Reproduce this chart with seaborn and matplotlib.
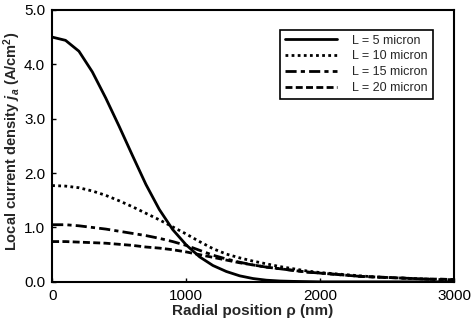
import numpy as np
import pandas as pd
import matplotlib
matplotlib.use("Agg")
import matplotlib.pyplot as plt
import seaborn as sns

rho = [0, 100, 200, 300, 400, 500, 600, 700, 800, 900, 1000, 1100, 1200, 1300, 1400,
       1500, 1600, 1700, 1800, 1900, 2000, 2100, 2200, 2300, 2400, 2500, 2600, 2700,
       2800, 2900, 3000]
j_L5 = [4.5, 4.44, 4.24, 3.86, 3.38, 2.86, 2.32, 1.79, 1.33, 0.96, 0.68, 0.46, 0.3, 0.19,
        0.11, 0.06, 0.03, 0.015, 0.008, 0.004, 0.0, 0.0, 0.0, 0.0, 0.0, 0.0, 0.0, 0.0,
        0.0, 0.0, 0.0]
j_L10 = [1.77, 1.76, 1.73, 1.67, 1.59, 1.49, 1.38, 1.26, 1.14, 1.01, 0.88, 0.74, 0.61,
         0.51, 0.44, 0.38, 0.33, 0.28, 0.24, 0.2, 0.17, 0.15, 0.13, 0.11, 0.09, 0.08,
         0.07, 0.06, 0.05, 0.04, 0.03]
j_L15 = [1.05, 1.05, 1.03, 1.0, 0.97, 0.93, 0.89, 0.85, 0.8, 0.74, 0.67, 0.58, 0.49,
         0.42, 0.36, 0.31, 0.27, 0.24, 0.21, 0.18, 0.16, 0.14, 0.12, 0.1, 0.09, 0.08,
         0.07, 0.06, 0.05, 0.04, 0.04]
j_L20 = [0.74, 0.74, 0.73, 0.72, 0.71, 0.69, 0.67, 0.64, 0.62, 0.59, 0.55, 0.5, 0.45,
         0.4, 0.35, 0.31, 0.27, 0.24, 0.21, 0.18, 0.16, 0.14, 0.12, 0.1, 0.09, 0.08,
         0.07, 0.06, 0.05, 0.05, 0.04]
labels = ["L = 5 micron", "L = 10 micron", "L = 15 micron", "L = 20 micron"]
series = [j_L5, j_L10, j_L15, j_L20]

df = pd.concat([pd.DataFrame({"rho": rho, "j": s, "L": lab}) for s, lab in zip(series, labels)],
               ignore_index=True)

sns.set_theme(style="ticks")
plt.rcParams["font.family"] = ["Liberation Sans", "DejaVu Sans"]
plt.rcParams["mathtext.fontset"] = "custom"
plt.rcParams["mathtext.rm"] = "Liberation Sans:bold"
plt.rcParams["mathtext.it"] = "Liberation Sans:bold:italic"
plt.rcParams["mathtext.bf"] = "Liberation Sans:bold"

fig = plt.figure(figsize=(4.74, 3.30), dpi=100)
ax = fig.add_axes([0.110, 0.146, 0.848, 0.824])

sns.lineplot(data=df, x="rho", y="j", style="L", style_order=labels,
             dashes=["", (1, 1.2), (4, 1.5, 1.5, 1.5), (2.5, 1.2)],
             color="black", linewidth=2, ax=ax)

ax.set_xlim(0, 3000)
ax.set_ylim(0, 5)
ax.set_xticks([0, 1000, 2000, 3000])
ax.set_yticks([0, 1, 2, 3, 4, 5])
ax.set_yticklabels([f"{v:.1f}" for v in [0, 1, 2, 3, 4, 5]])
ax.tick_params(direction="in", length=3, width=1, labelsize=11, colors="black", pad=5)
for sp in ax.spines.values():
    sp.set_visible(True)
    sp.set_linewidth(1.5)
    sp.set_color("black")

ax.set_xlabel("Radial position ρ (nm)", fontsize=11, fontweight="bold", labelpad=1)
ax.set_ylabel(r"Local current density $j_a$ (A/cm$^2$)", fontsize=10.5, fontweight="bold")
ax.yaxis.set_label_coords(-0.072, 0.515)

leg = ax.legend(loc="upper right", bbox_to_anchor=(0.963, 0.95), fontsize=9,
                handlelength=4.2, frameon=True, fancybox=False, edgecolor="black",
                framealpha=1, borderpad=0.4, labelspacing=0.3, handletextpad=1.2)
leg.get_frame().set_linewidth(1.2)
for line in leg.get_lines():
    line.set_linewidth(2)

fig.savefig("out.png", dpi=100)
